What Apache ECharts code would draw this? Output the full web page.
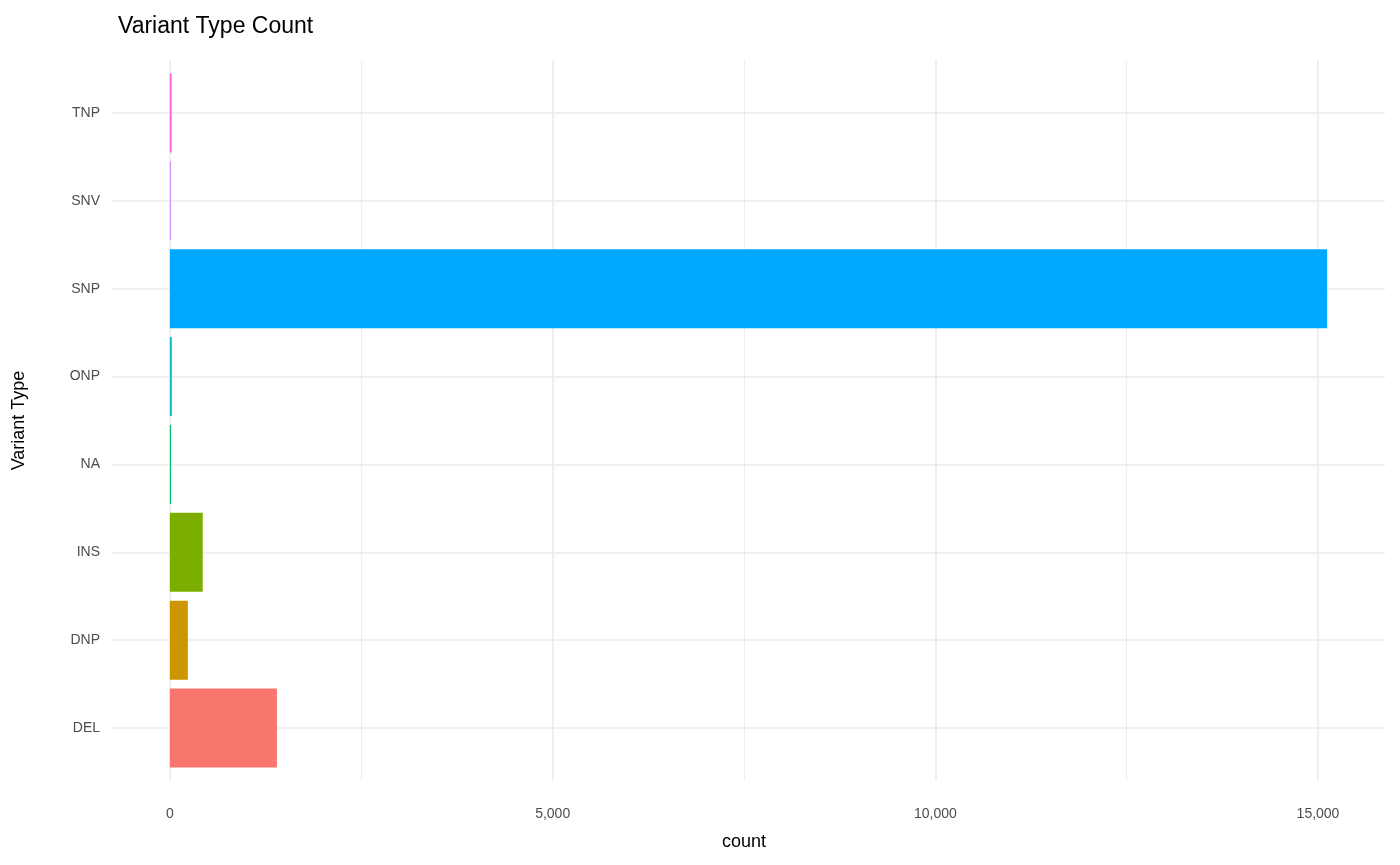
<!DOCTYPE html>
<html>
<head>
<meta charset="utf-8">
<script src="https://cdn.jsdelivr.net/npm/echarts@6/dist/echarts.min.js"></script>
<style>html,body{margin:0;background:#fff}#c{width:1400px;height:865px}</style>
</head>
<body>
<div id="c"></div>
<script>
var categories = ['DEL', 'DNP', 'INS', 'NA', 'ONP', 'SNP', 'SNV', 'TNP'];
var counts = [1400, 235, 430, 15, 25, 15137, 12, 22];
var colors = ['#F8766D', '#CD9600', '#7CAE00', '#00BE67', '#00BFC4', '#00A9FF', '#C77CFF', '#FF61CC'];
var xTicks = [0, 5000, 10000, 15000];

var font = 'Liberation Sans, Arial, sans-serif';
var myChart = echarts.init(document.getElementById('c'));
var option = {
    animation: false,
    textStyle: {fontFamily: font},
    title: {
        text: 'Variant Type Count', left: 113, top: 10,
        textStyle: {fontSize: 23, fontWeight: 'normal', color: '#000', fontFamily: font}
    },
    grid: [
        {left: 112, right: 15, top: 69, bottom: 93},
        {left: 170, right: 82, top: 60, bottom: 84, z: 0}
    ],
    xAxis: [
        {gridIndex: 0, type: 'value', min: -757, max: 15894, show: false},
        {
            gridIndex: 1, type: 'value', min: xTicks[0], max: xTicks[xTicks.length - 1], interval: 5000,
            axisLine: {show: false}, axisTick: {show: false},
            axisLabel: {color: '#4d4d4d', fontSize: 14, margin: 26},
            splitLine: {lineStyle: {color: '#ebebeb', width: 1.6}},
            minorTick: {show: false, splitNumber: 2},
            minorSplitLine: {show: true, lineStyle: {color: '#ebebeb', width: 0.9}},
            name: 'count', nameLocation: 'middle', nameGap: 52,
            nameTextStyle: {fontSize: 18, color: '#000'}
        }
    ],
    yAxis: [
        {
            gridIndex: 0, type: 'category', data: categories,
            axisLine: {show: false}, axisTick: {show: false},
            axisLabel: {color: '#4d4d4d', fontSize: 14, margin: 12},
            splitLine: {show: false},
            name: 'Variant Type', nameLocation: 'middle', nameGap: 84, nameRotate: 90,
            nameTextStyle: {fontSize: 18, color: '#000'}
        },
        {gridIndex: 1, type: 'value', show: false, min: 0, max: 1}
    ],
    series: [
        {
            type: 'bar', xAxisIndex: 0, yAxisIndex: 0, barWidth: '90%', z: 3,
            data: counts.map(function (v, i) {
                return {value: v, itemStyle: {color: colors[i]}};
            }),
            markLine: {
                silent: true, symbol: 'none', label: {show: false}, z: 1,
                lineStyle: {color: '#ebebeb', width: 1.6, type: 'solid'},
                data: categories.map(function (c) { return {yAxis: c}; })
            }
        }
    ]
};
myChart.setOption(option);
</script>
</body>
</html>
